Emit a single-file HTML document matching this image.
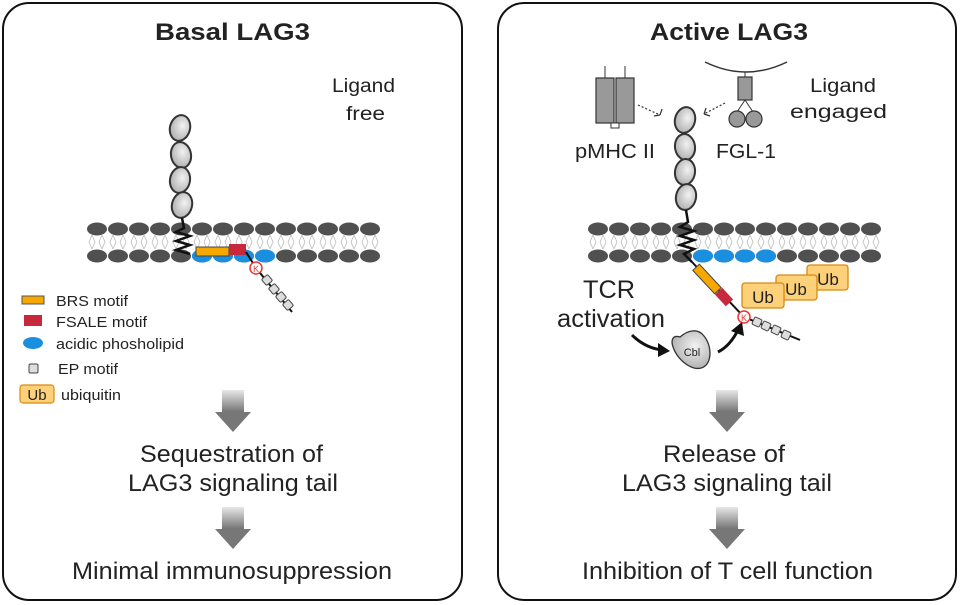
<!DOCTYPE html>
<html><head><meta charset="utf-8"><style>
html,body{margin:0;padding:0;background:#fff;width:960px;height:605px;overflow:hidden}
svg{display:block}
text{font-family:"Liberation Sans",Arial,sans-serif;fill:#222}
</style></head><body>
<svg width="960" height="605" viewBox="0 0 960 605" xmlns="http://www.w3.org/2000/svg">
<defs>
<radialGradient id="eg" cx="0.6" cy="0.4" r="0.7"><stop offset="0" stop-color="#f2f2f2"/><stop offset="1" stop-color="#a8a8a8"/></radialGradient>
<linearGradient id="ag" x1="0" y1="0" x2="0" y2="1"><stop offset="0" stop-color="#e8e8e8"/><stop offset="1" stop-color="#6a6a6a"/></linearGradient>
<g id="lip">
<ellipse cx="0" cy="0" rx="10" ry="6.5" fill="#505050"/>
<ellipse cx="0" cy="27" rx="10" ry="6.5" fill="#505050"/>
<path d="M-5 6 L-8 13 L-5 20 M5 6 L8 13 L5 20 M-5 6 L-2 13 L-5 20 M5 6 L2 13 L5 20" stroke="#bbb" stroke-width="0.8" fill="none"/>
</g>
<g id="arrow"><rect x="-11" y="0" width="22" height="24" fill="url(#ag)"/><path d="M-18 22 L18 22 L0 42 Z" fill="#777"/></g>
<g id="ep"><rect x="-4" y="-4" width="8" height="8" rx="1.5" fill="#ddd" stroke="#444" stroke-width="1"/></g>
</defs>
<rect x="3" y="3" width="459" height="597" rx="26" fill="none" stroke="#111" stroke-width="2"/>
<rect x="498" y="3" width="458" height="597" rx="26" fill="none" stroke="#111" stroke-width="2"/>
<text x="155" y="40" font-size="24" font-weight="bold" textLength="155" lengthAdjust="spacingAndGlyphs">Basal LAG3</text>
<text x="650" y="40" font-size="24" font-weight="bold" textLength="158" lengthAdjust="spacingAndGlyphs">Active LAG3</text>

<!-- LEFT -->
<text x="332" y="92" font-size="19" textLength="63" lengthAdjust="spacingAndGlyphs">Ligand</text>
<text x="346" y="120" font-size="19" textLength="39" lengthAdjust="spacingAndGlyphs">free</text>
<g>
<use href="#lip" x="97" y="229"/><use href="#lip" x="118" y="229"/><use href="#lip" x="139" y="229"/><use href="#lip" x="160" y="229"/><use href="#lip" x="181" y="229"/><use href="#lip" x="202" y="229"/><use href="#lip" x="223" y="229"/><use href="#lip" x="244" y="229"/><use href="#lip" x="265" y="229"/><use href="#lip" x="286" y="229"/><use href="#lip" x="307" y="229"/><use href="#lip" x="328" y="229"/><use href="#lip" x="349" y="229"/><use href="#lip" x="370" y="229"/>
</g>
<ellipse cx="202" cy="256" rx="10" ry="6.5" fill="#1a8fe0"/>
<ellipse cx="223" cy="256" rx="10" ry="6.5" fill="#1a8fe0"/>
<ellipse cx="244" cy="256" rx="10" ry="6.5" fill="#1a8fe0"/>
<ellipse cx="265" cy="256" rx="10" ry="6.5" fill="#1a8fe0"/>
<g fill="url(#eg)" stroke="#333" stroke-width="2">
<ellipse cx="180" cy="128" rx="10" ry="13" transform="rotate(15 180 128)"/>
<ellipse cx="181" cy="155" rx="10" ry="13" transform="rotate(-10 181 155)"/>
<ellipse cx="180" cy="180" rx="10" ry="13" transform="rotate(10 180 180)"/>
<ellipse cx="182" cy="205" rx="10" ry="13" transform="rotate(15 182 205)"/>
</g>
<path d="M182 218 L184 228 L176 232 L190 236 L176 241 L190 245 L176 250 L190 254" stroke="#111" stroke-width="2.5" fill="none"/>
<rect x="196" y="247" width="33" height="9" fill="#f6a800" stroke="#444" stroke-width="1"/>
<rect x="229" y="244" width="17" height="11" fill="#c8283c"/>
<path d="M246 252 L256 268 L292 312" stroke="#111" stroke-width="2" fill="none"/>
<circle cx="256" cy="268" r="6" fill="#fff" stroke="#e33" stroke-width="1.5"/>
<text x="256" y="272" font-size="9" text-anchor="middle" style="fill:#e33">K</text>
<use href="#ep" transform="translate(267 280) rotate(50)"/>
<use href="#ep" transform="translate(274 289) rotate(50)"/>
<use href="#ep" transform="translate(281 297) rotate(50)"/>
<use href="#ep" transform="translate(288 305) rotate(50)"/>
<!-- legend -->
<rect x="22" y="296" width="22" height="8" fill="#f6a800" stroke="#555" stroke-width="1"/>
<text x="56" y="306" font-size="15" textLength="72" lengthAdjust="spacingAndGlyphs">BRS motif</text>
<rect x="24" y="315" width="18" height="11" fill="#c8283c"/>
<text x="56" y="327" font-size="15" textLength="91" lengthAdjust="spacingAndGlyphs">FSALE motif</text>
<ellipse cx="33" cy="343" rx="10" ry="6" fill="#1a8fe0"/>
<text x="56" y="349" font-size="15" textLength="128" lengthAdjust="spacingAndGlyphs">acidic phosholipid</text>
<rect x="29" y="364" width="9" height="9" rx="1.5" fill="#ddd" stroke="#444"/>
<text x="58" y="374" font-size="15" textLength="60" lengthAdjust="spacingAndGlyphs">EP motif</text>
<rect x="20" y="385" width="34" height="18" rx="3" fill="#fdd17a" stroke="#d88a10" stroke-width="1.2"/>
<text x="37" y="400" font-size="15" text-anchor="middle">Ub</text>
<text x="61" y="400" font-size="15" textLength="60" lengthAdjust="spacingAndGlyphs">ubiquitin</text>
<use href="#arrow" x="233" y="390"/>
<text x="140" y="462" font-size="24" textLength="183" lengthAdjust="spacingAndGlyphs">Sequestration of</text>
<text x="128" y="491" font-size="24" textLength="210" lengthAdjust="spacingAndGlyphs">LAG3 signaling tail</text>
<use href="#arrow" x="233" y="507"/>
<text x="72" y="579" font-size="24" textLength="320" lengthAdjust="spacingAndGlyphs">Minimal immunosuppression</text>

<!-- RIGHT -->
<rect x="596" y="78" width="18" height="45" fill="#999" stroke="#333" stroke-width="1.2"/>
<rect x="616" y="78" width="18" height="45" fill="#999" stroke="#333" stroke-width="1.2"/>
<rect x="611" y="123" width="8" height="5" fill="#fff" stroke="#333" stroke-width="1"/>
<line x1="605" y1="66" x2="605" y2="78" stroke="#333"/><line x1="625" y1="66" x2="625" y2="78" stroke="#333"/>
<path d="M705 62 Q746 82 787 62" stroke="#333" stroke-width="1.5" fill="none"/>
<line x1="745" y1="72" x2="745" y2="77" stroke="#333"/>
<rect x="738" y="77" width="14" height="23" fill="#999" stroke="#333" stroke-width="1.2"/>
<path d="M745 100 L737 112 M745 100 L753 112" stroke="#333"/>
<circle cx="737" cy="119" r="8" fill="#999" stroke="#333" stroke-width="1.2"/>
<circle cx="754" cy="119" r="8" fill="#999" stroke="#333" stroke-width="1.2"/>
<path d="M638 105 L660 115" stroke="#333" stroke-width="1.2" stroke-dasharray="2 2"/>
<path d="M660 115 L662 109 M660 115 L654 116" stroke="#333" stroke-width="1.2"/>
<path d="M725 103 L704 114" stroke="#333" stroke-width="1.2" stroke-dasharray="2 2"/>
<path d="M704 114 L706 108 M704 114 L710 116" stroke="#333" stroke-width="1.2"/>
<text x="575" y="158" font-size="20" textLength="80" lengthAdjust="spacingAndGlyphs">pMHC II</text>
<text x="716" y="158" font-size="20" textLength="60" lengthAdjust="spacingAndGlyphs">FGL-1</text>
<text x="810" y="92" font-size="19" textLength="66" lengthAdjust="spacingAndGlyphs">Ligand</text>
<text x="790" y="118" font-size="19" textLength="97" lengthAdjust="spacingAndGlyphs">engaged</text>
<use href="#lip" x="598" y="229"/><use href="#lip" x="619" y="229"/><use href="#lip" x="640" y="229"/><use href="#lip" x="661" y="229"/><use href="#lip" x="682" y="229"/><use href="#lip" x="703" y="229"/><use href="#lip" x="724" y="229"/><use href="#lip" x="745" y="229"/><use href="#lip" x="766" y="229"/><use href="#lip" x="787" y="229"/><use href="#lip" x="808" y="229"/><use href="#lip" x="829" y="229"/><use href="#lip" x="850" y="229"/><use href="#lip" x="871" y="229"/>
<ellipse cx="703" cy="256" rx="10" ry="6.5" fill="#1a8fe0"/>
<ellipse cx="724" cy="256" rx="10" ry="6.5" fill="#1a8fe0"/>
<ellipse cx="745" cy="256" rx="10" ry="6.5" fill="#1a8fe0"/>
<ellipse cx="766" cy="256" rx="10" ry="6.5" fill="#1a8fe0"/>
<g fill="url(#eg)" stroke="#333" stroke-width="2">
<ellipse cx="685" cy="120" rx="10" ry="13" transform="rotate(15 685 120)"/>
<ellipse cx="685" cy="147" rx="10" ry="13" transform="rotate(-8 685 147)"/>
<ellipse cx="685" cy="172" rx="10" ry="13" transform="rotate(8 685 172)"/>
<ellipse cx="686" cy="197" rx="10" ry="13" transform="rotate(12 686 197)"/>
</g>
<path d="M686 210 L688 222 L680 227 L694 231 L680 236 L694 240 L680 245 L694 249 L684 254 L692 262" stroke="#111" stroke-width="2.5" fill="none"/>
<path d="M692 262 L744 317 L800 340" stroke="#111" stroke-width="2" fill="none"/>
<rect x="-16" y="-4.5" width="32" height="9" fill="#f6a800" stroke="#444" stroke-width="1" transform="translate(707 279) rotate(47)"/>
<rect x="-8" y="-5" width="16" height="10" fill="#c8283c" transform="translate(724 297) rotate(47)"/>
<circle cx="744" cy="317" r="6" fill="#fff" stroke="#e33" stroke-width="1.5"/>
<text x="744" y="321" font-size="9" text-anchor="middle" style="fill:#e33">K</text>
<use href="#ep" transform="translate(757 322) rotate(25)"/>
<use href="#ep" transform="translate(766 326) rotate(25)"/>
<use href="#ep" transform="translate(776 330) rotate(25)"/>
<use href="#ep" transform="translate(786 335) rotate(25)"/>
<g stroke="#d88a10" stroke-width="1.3" fill="#fdd17a">
<rect x="807" y="265" width="41" height="25" rx="3"/>
<rect x="776" y="275" width="41" height="25" rx="3"/>
<rect x="742" y="283" width="42" height="25" rx="3"/>
</g>
<text x="828" y="285" font-size="17" text-anchor="middle">Ub</text>
<text x="796" y="295" font-size="17" text-anchor="middle">Ub</text>
<text x="763" y="303" font-size="17" text-anchor="middle">Ub</text>
<text x="583" y="298" font-size="25" textLength="52" lengthAdjust="spacingAndGlyphs">TCR</text>
<text x="557" y="327" font-size="25" textLength="108" lengthAdjust="spacingAndGlyphs">activation</text>
<path d="M680 337 C664 332 674 362 694 368 C712 372 714 348 704 336 C698 328 688 330 680 337 Z" fill="url(#eg)" stroke="#333" stroke-width="1.3"/>
<text x="692" y="356" font-size="11" text-anchor="middle">Cbl</text>
<path d="M632 335 Q645 348 662 350" stroke="#111" stroke-width="3" fill="none"/>
<path d="M670 351 L658 343 L658 357 Z" fill="#111"/>
<path d="M718 352 Q730 346 738 330" stroke="#111" stroke-width="3" fill="none"/>
<path d="M742 322 L731 331 L744 336 Z" fill="#111"/>
<use href="#arrow" x="727" y="390"/>
<text x="663" y="462" font-size="24" textLength="122" lengthAdjust="spacingAndGlyphs">Release of</text>
<text x="622" y="491" font-size="24" textLength="210" lengthAdjust="spacingAndGlyphs">LAG3 signaling tail</text>
<use href="#arrow" x="727" y="507"/>
<text x="582" y="579" font-size="24" textLength="291" lengthAdjust="spacingAndGlyphs">Inhibition of T cell function</text>
</svg>
</body></html>
